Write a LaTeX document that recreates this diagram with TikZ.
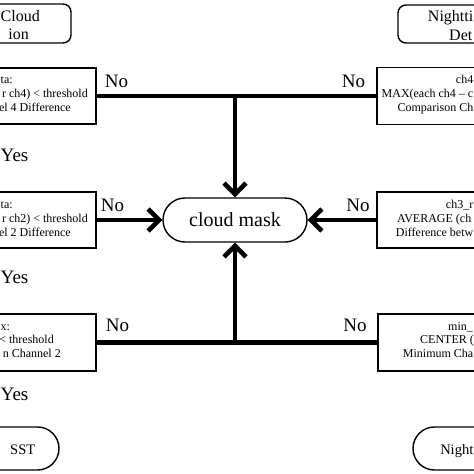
\documentclass[tikz,border=0pt]{standalone}
\usepackage{fontspec}
\setmainfont{Liberation Serif}
\usetikzlibrary{arrows.meta,shapes.misc}
\begin{document}
\begin{tikzpicture}[x=1pt,y=-1pt,
 box/.style={draw,line width=1.4pt,minimum width=200pt,inner sep=0},
 pill/.style={rounded rectangle,draw,line width=1.4pt,inner sep=0},
 rbox/.style={draw,rounded corners=8pt,line width=1.4pt,inner sep=0},
 conn/.style={line width=4.5pt},
 arr/.style={-{Straight Barb[length=11pt,width=22pt]}},
 small/.style={font=\fontsize{12}{14}\selectfont,inner sep=0},
 lbl/.style={font=\fontsize{19}{22}\selectfont,inner sep=0},
 ttl/.style={font=\fontsize{16}{19}\selectfont,inner sep=0},
 btl/.style={font=\fontsize{14.5}{17}\selectfont,inner sep=0}]
\useasboundingbox (0,0) rectangle (474,474);
\clip (0,0) rectangle (474,474);
\fill[white] (0,0) rectangle (474,474);

% top rounded boxes
\node[rbox,minimum width=131pt,minimum height=39pt] (TL) at (5.5,23.5) {};
\node[ttl,anchor=base west] (tl1) at (0.5,21) {Cloud};
\node[ttl,anchor=base east] (tl2) at (29,39) {ion};
\node[rbox,minimum width=142pt,minimum height=38pt] (TR) at (469,24) {};
\node[ttl,anchor=base east] (tr1) at (473.5,21) {Nightti};
\node[ttl,anchor=base west] (tr2) at (449,40) {Det};

% bottom pills
\node[pill,minimum width=99pt,minimum height=43pt] (SST) at (9.5,448.5) {};
\node[btl,anchor=base west] (sst) at (10,454) {SST};
\node[pill,minimum width=120pt,minimum height=43pt] (NI) at (473,448.5) {};
\node[btl,anchor=base east] (ni) at (473.5,454) {Night};

% center
\node[pill,minimum width=144pt,minimum height=44pt,font=\fontsize{20}{24}\selectfont] (CM) at (235,220) {cloud mask};

% left boxes
\node[box,minimum height=56pt] (L1) at (-4,96) {};
\node[small,anchor=base west] (l1a) at (0.5,83) {ta:};
\node[small,anchor=base east] (l1b) at (88,97) {r ch4) < threshold};
\node[small,anchor=base east] (l1c) at (71,111) {el 4 Difference};
\node[box,minimum height=56pt] (L2) at (-4,220) {};
\node[small,anchor=base west] (l2a) at (0.5,208) {ta:};
\node[small,anchor=base east] (l2b) at (88,222) {r ch2) < threshold};
\node[small,anchor=base east] (l2c) at (71,236) {el 2 Difference};
\node[box,minimum height=57pt] (L3) at (-4,342.5) {};
\node[small,anchor=base west] (l3a) at (0.5,330) {x:};
\node[small,anchor=base east] (l3b) at (54,343) {< threshold};
\node[small,anchor=base east] (l3c) at (61,357) {n Channel 2};

% right boxes
\node[box,minimum height=57pt] (R1) at (477,96) {};
\node[small,anchor=base east] (r1a) at (473.5,83) {ch4};
\node[small,anchor=base east] (r1b) at (473.5,97) {MAX(each ch4 – c};
\node[small,anchor=base east] (r1c) at (473.5,111) {Comparison Ch};
\node[box,minimum height=56pt] (R2) at (477,220) {};
\node[small,anchor=base east] (r2a) at (473.5,208) {ch3\_r};
\node[small,anchor=base west] (r2b) at (397,222) {AVERAGE (ch};
\node[small,anchor=base east] (r2c) at (473.5,236) {Difference betw};
\node[box,minimum height=57pt] (R3) at (478,342.5) {};
\node[small,anchor=base west] (r3a) at (448,330) {min\_};
\node[small,anchor=base west] (r3b) at (420,343) {CENTER (};
\node[small,anchor=base east] (r3c) at (473.5,357) {Minimum Cha};

% labels
\node[lbl,anchor=base] (no1) at (116.5,87) {No};
\node[lbl,anchor=base] (no2) at (112.5,211) {No};
\node[lbl,anchor=base] (no3) at (117.5,331) {No};
\node[lbl,anchor=base] (no4) at (353.5,87) {No};
\node[lbl,anchor=base] (no5) at (358,211) {No};
\node[lbl,anchor=base] (no6) at (355,331) {No};
\node[lbl,anchor=base west] (y1) at (0.5,161) {Yes};
\node[lbl,anchor=base west] (y2) at (0.5,283) {Yes};
\node[lbl,anchor=base west] (y3) at (0.5,400) {Yes};

% connectors
\draw[conn] (L1.east) -- (R1.west);
\draw[conn,arr] (CM.north |- L1.east) -- (CM.north);
\draw[conn,arr] (L2.east) -- (CM.west);
\draw[conn,arr] (R2.west) -- (CM.east);
\draw[conn] (L3.east) -- (R3.west);
\draw[conn,arr] (CM.south |- L3.east) -- (CM.south);
\end{tikzpicture}
\end{document}
